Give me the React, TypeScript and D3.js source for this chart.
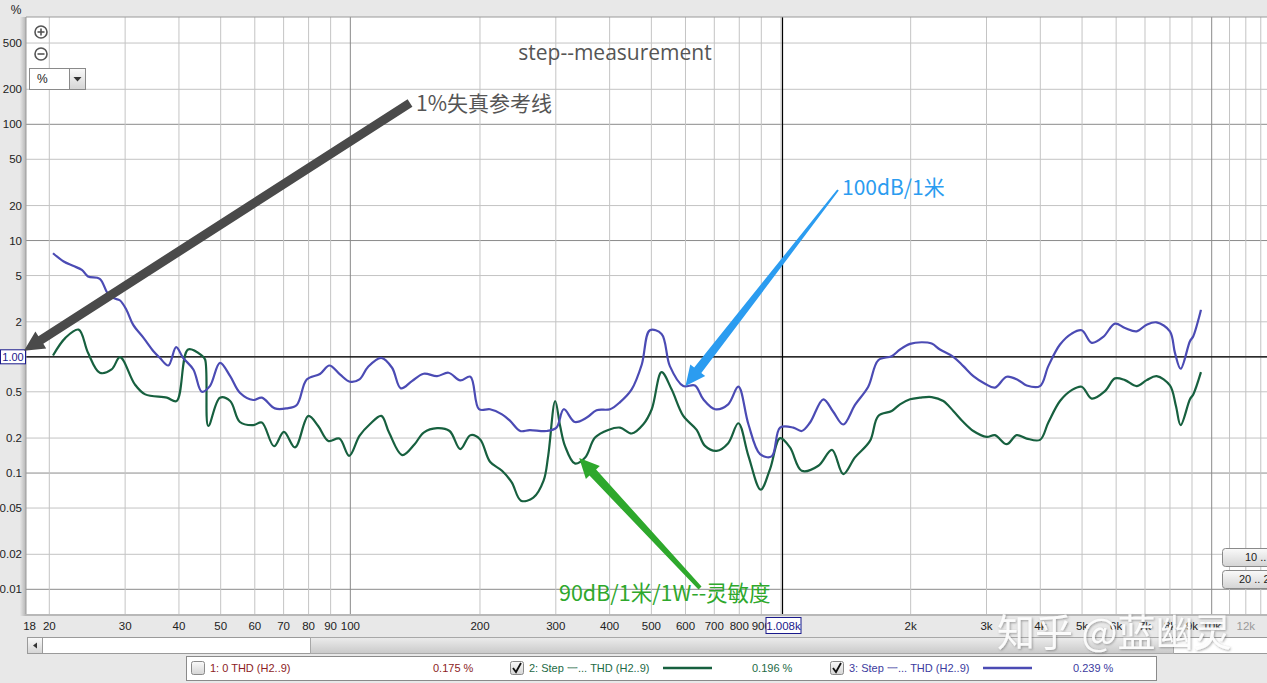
import React from 'react';
import * as d3 from 'd3';

// ---- Data (frequency in Hz, THD in %) ----
const blueFreq = [20.4, 21.6, 22.7, 23.8, 24.6, 26.2, 27.3, 28.2, 29.2, 30.2, 31.3, 33.1, 34.9, 36.1, 37.8, 39.4, 40.9, 43.2, 45.2, 47.2, 49.8, 52.6, 55.4, 59.5, 62.3, 66.8, 71.1, 75.1, 79.2, 85.0, 89.4, 94.6, 99.8, 105, 110, 118, 125, 131, 139, 148, 159, 169, 180, 190, 199, 211, 225, 235, 248, 261, 286, 301, 313, 332, 354, 373, 401, 423, 450, 475, 496, 528, 552, 593, 631, 660, 703, 754, 796, 840, 894, 951, 995, 1068, 1117, 1168, 1254, 1322, 1395, 1485, 1594, 1682, 1807, 1889, 1993, 2121, 2238, 2339, 2512, 2650, 2796, 2976, 3139, 3342, 3556, 3719, 3993, 4175, 4444, 4730, 4991, 5265, 5600, 5962, 6290, 6694, 7062, 7450, 7998, 8216, 8470, 8902, 9062, 9442];
const blueValue = [7.78, 6.6, 6.06, 5.6, 4.91, 4.69, 3.53, 3.2, 3.05, 2.54, 1.89, 1.455, 1.117, 0.98, 0.842, 1.209, 0.98, 0.778, 0.501, 0.56, 0.888, 0.682, 0.491, 0.425, 0.445, 0.36, 0.36, 0.385, 0.639, 0.712, 0.842, 0.705, 0.61, 0.639, 0.821, 0.98, 0.805, 0.535, 0.618, 0.715, 0.682, 0.729, 0.627, 0.674, 0.354, 0.354, 0.32, 0.281, 0.23, 0.234, 0.23, 0.246, 0.354, 0.275, 0.3, 0.347, 0.354, 0.408, 0.525, 0.859, 1.69, 1.574, 0.831, 0.56, 0.567, 0.431, 0.354, 0.39, 0.553, 0.263, 0.1455, 0.139, 0.246, 0.246, 0.23, 0.272, 0.431, 0.3365, 0.2615, 0.386, 0.553, 0.935, 1.012, 1.155, 1.292, 1.334, 1.3, 1.155, 1.0, 0.831, 0.682, 0.587, 0.543, 0.674, 0.63, 0.567, 0.56, 0.831, 1.275, 1.584, 1.69, 1.318, 1.484, 1.929, 1.772, 1.657, 1.89, 1.979, 1.657, 1.082, 0.789, 1.36, 1.501, 2.54];

const greenFreq = [20.4, 21.8, 23.4, 24.6, 26.2, 27.9, 29.2, 31.6, 33.4, 37.5, 39.5, 42.0, 45.2, 46.0, 46.8, 49.8, 52.6, 55.4, 59.5, 62.3, 66.5, 70.1, 74.4, 79.9, 84.2, 88.9, 94.3, 99.4, 105, 111, 118, 123, 132, 141, 148, 159, 170, 180, 190, 200, 211, 225, 237, 249, 266, 281, 288, 299, 307, 315, 332, 351, 370, 397, 423, 450, 479, 501, 528, 557, 593, 637, 666, 709, 754, 796, 840, 897, 943, 995, 1049, 1117, 1221, 1313, 1395, 1485, 1609, 1682, 1807, 1889, 1993, 2102, 2238, 2381, 2512, 2650, 2796, 3003, 3139, 3342, 3525, 3719, 3993, 4175, 4444, 4730, 4991, 5265, 5652, 5962, 6290, 6694, 7062, 7450, 7998, 8260, 8470, 8902, 9062, 9442];
const greenValue = [1.026, 1.455, 1.713, 1.082, 0.729, 0.778, 0.992, 0.579, 0.475, 0.445, 0.4165, 1.155, 1.026, 0.948, 0.254, 0.445, 0.4165, 0.275, 0.258, 0.272, 0.17, 0.226, 0.166, 0.31, 0.254, 0.189, 0.198, 0.1407, 0.209, 0.263, 0.31, 0.223, 0.1427, 0.177, 0.223, 0.243, 0.23, 0.1606, 0.2117, 0.1956, 0.125, 0.1046, 0.0832, 0.0579, 0.0614, 0.0859, 0.1407, 0.4165, 0.254, 0.1714, 0.121, 0.1363, 0.202, 0.235, 0.246, 0.219, 0.263, 0.354, 0.738, 0.525, 0.31, 0.235, 0.1714, 0.1553, 0.1807, 0.268, 0.1407, 0.0719, 0.1082, 0.1995, 0.166, 0.1046, 0.1155, 0.1584, 0.098, 0.1363, 0.189, 0.31, 0.342, 0.39, 0.431, 0.445, 0.4506, 0.4165, 0.342, 0.275, 0.23, 0.2047, 0.2117, 0.177, 0.2117, 0.198, 0.193, 0.272, 0.4165, 0.517, 0.553, 0.437, 0.507, 0.652, 0.63, 0.56, 0.63, 0.682, 0.567, 0.377, 0.258, 0.431, 0.475, 0.738];

const freqTicks = [18, 20, 30, 40, 50, 60, 70, 80, 90, 100, 200, 300, 400, 500, 600, 700, 800, 900, 2000, 3000, 4000, 5000, 6000, 7000, 8000, 9000, 10000, 12000];
const freqTickLabels = ['18', '20', '30', '40', '50', '60', '70', '80', '90', '100', '200', '300', '400', '500', '600', '700', '800', '900', '2k', '3k', '4k', '5k', '6k', '7k', '8k', '9k', '10k', '12k'];
const valueTicks = [500, 200, 100, 50, 20, 10, 5, 2, 0.5, 0.2, 0.1, 0.05, 0.02, 0.01];
const valueTickLabels = ['500', '200', '100', '50', '20', '10', '5', '2', '0.5', '0.2', '0.1', '0.05', '0.02', '0.01'];
const gridFreqs = [20, 30, 40, 50, 60, 70, 80, 90, 100, 200, 300, 400, 500, 600, 700, 800, 900, 1000, 2000, 3000, 4000, 5000, 6000, 7000, 8000, 9000, 10000, 11000, 12000, 13000];
const gridValues = [0.01, 0.02, 0.05, 0.1, 0.2, 0.5, 1, 2, 5, 10, 20, 50, 100, 200, 500];
const cursorFreq = 1008;
const referenceValue = 1;

const legendLabels = ['1: 0 THD (H2..9)', '2: Step 一... THD (H2..9)', '3: Step 一... THD (H2..9)'];
const legendValues = ['0.175 %', '0.196 %', '0.239 %'];
const legendChecked = [false, true, true];

const BLUE = '#4b4bb4';
const GREEN = '#17603f';

const W = 1267, H = 683;
const PL = 26, PT = 17, PR = 1267, PB = 614;

function arrowPoly(x0: number, y0: number, x1: number, y1: number, w0: number, w1: number, hl: number, hw: number) {
  const dx = x1 - x0, dy = y1 - y0, len = Math.hypot(dx, dy);
  const ux = dx / len, uy = dy / len, px = -uy, py = ux;
  const bx = x1 - ux * hl, by = y1 - uy * hl;
  const pts = [
    [x0 + px * w0 / 2, y0 + py * w0 / 2],
    [bx + px * w1 / 2, by + py * w1 / 2],
    [bx + px * hw / 2, by + py * hw / 2],
    [x1, y1],
    [bx - px * hw / 2, by - py * hw / 2],
    [bx - px * w1 / 2, by - py * w1 / 2],
    [x0 - px * w0 / 2, y0 - py * w0 / 2],
  ];
  return pts.map(p => p[0].toFixed(1) + ',' + p[1].toFixed(1)).join(' ');
}

export default function App() {
  const x = d3.scaleLog().domain([20, 10000]).range([49.3, 1211.7]);
  const y = d3.scaleLog().domain([0.01, 100]).range([589.3, 124.3]);

  const line = d3.line<[number, number]>()
    .x(d => x(d[0]))
    .y(d => y(d[1]))
    .curve(d3.curveCatmullRom.alpha(0.5));

  const blueData = blueFreq.map((f, i) => [f, blueValue[i]] as [number, number]);
  const greenData = greenFreq.map((f, i) => [f, greenValue[i]] as [number, number]);

  const font = 'Liberation Sans, Arial, sans-serif';
  const cjk = '"Noto Sans CJK SC", "Noto Sans", sans-serif';

  const y1 = y(referenceValue);
  const xc = x(cursorFreq);

  // annotation anchors via scales
  const grayTip: [number, number] = [PL - 2, y1 - 6];
  const blueTip: [number, number] = [x(600), y(0.56)];
  const greenTip: [number, number] = [x(340), y(0.135)];

  return (
    <div style={{ position: 'absolute', left: 0, top: 0 }}>
      <svg width={W} height={H} style={{ display: 'block' }} fontFamily={font}>
        <defs>
          <clipPath id="plotclip">
            <rect x={PL} y={PT} width={PR - PL} height={PB - PT} />
          </clipPath>
          <linearGradient id="btn" x1="0" x2="0" y1="0" y2="1">
            <stop offset="0" stopColor="#fafafa" />
            <stop offset="1" stopColor="#d4d4d4" />
          </linearGradient>
          <linearGradient id="thumb" x1="0" x2="0" y1="0" y2="1">
            <stop offset="0" stopColor="#ececec" />
            <stop offset="1" stopColor="#c9c9c9" />
          </linearGradient>
          <linearGradient id="shadowL" x1="0" x2="1" y1="0" y2="0">
            <stop offset="0" stopColor="#e6e6e6" />
            <stop offset="1" stopColor="#b5b5b5" />
          </linearGradient>
          <filter id="wmshadow" x="-5%" y="-20%" width="110%" height="140%">
            <feDropShadow dx="1" dy="1" stdDeviation="1" floodColor="#555" floodOpacity="0.55" />
          </filter>
        </defs>
        {/* background */}
        <rect x={0} y={0} width={W} height={H} fill="#e8e8e8" />
        <rect x={PL - 6} y={PT} width={6} height={PB - PT + 2} fill="url(#shadowL)" />
        <rect x={PL} y={PT} width={PR - PL} height={PB - PT} fill="#ffffff" />
        <rect x={PL} y={PB} width={PR - PL} height={2} fill="#b8b8b8" />

        {/* grid */}
        <g clipPath="url(#plotclip)">
          {gridValues.map(v => (
            <line key={'gy' + v} x1={PL} x2={PR} y1={y(v)} y2={y(v)}
              stroke={Math.abs(Math.log10(v) % 1) < 1e-9 ? '#8a8a8a' : '#c4c4c4'} strokeWidth={1} />
          ))}
          {gridFreqs.map(f => (
            <line key={'gx' + f} x1={x(f)} x2={x(f)} y1={PT} y2={PB}
              stroke={f === 100 || f === 10000 ? '#8a8a8a' : '#c4c4c4'} strokeWidth={1} />
          ))}
          {/* reference line and cursor */}
          <line x1={PL} x2={PR} y1={y1} y2={y1} stroke="#000" strokeWidth={1.2} />
          <line x1={xc} x2={xc} y1={PT} y2={PB} stroke="#000" strokeWidth={1.2} />
          {/* curves */}
          <path d={line(greenData) || ''} fill="none" stroke={GREEN} strokeWidth={2.2} strokeLinejoin="round" />
          <path d={line(blueData) || ''} fill="none" stroke={BLUE} strokeWidth={2.2} strokeLinejoin="round" />
        </g>
        <line x1={PL} x2={PL} y1={PT} y2={PB} stroke="#9a9a9a" />
        <line x1={PL} x2={PR} y1={PT} y2={PT} stroke="#9a9a9a" />

        {/* top-left */}
        <text x={16} y={14} fontSize={12} textAnchor="middle" fill="#222">%</text>
        <g stroke="#555" strokeWidth={1.6} fill="none">
          <circle cx={41} cy={32} r={6} fill="#fff" />
          <line x1={37.5} x2={44.5} y1={32} y2={32} />
          <line x1={41} x2={41} y1={28.5} y2={35.5} />
          <circle cx={41} cy={54} r={6} fill="#fff" />
          <line x1={37.5} x2={44.5} y1={54} y2={54} />
        </g>
        <rect x={29.5} y={68.5} width={56} height={21} fill="#fff" stroke="#8a8a8a" />
        <rect x={69.5} y={68.5} width={16} height={21} fill="url(#btn)" stroke="#8a8a8a" />
        <path d="M73.5,77 L81.5,77 L77.5,81.5 Z" fill="#333" />
        <text x={37} y={83} fontSize={12} fill="#222">%</text>

        {/* y tick labels */}
        {valueTicks.map((v, i) => (
          <text key={'yl' + v} x={22} y={y(v) + 4} fontSize={11.5} textAnchor="end" fill="#222">{valueTickLabels[i]}</text>
        ))}
        <rect x={0.5} y={y1 - 7} width={25} height={14} fill="#fff" stroke="#1a1a8c" />
        <text x={13} y={y1 + 4} fontSize={11} textAnchor="middle" fill="#1a1a8c">1.00</text>

        {/* x tick labels */}
        {freqTicks.map((f, i) => (
          <text key={'xl' + f} x={x(f)} y={630} fontSize={11.5} textAnchor="middle" fill={f > 10000 ? '#9a9a9a' : '#222'}>{freqTickLabels[i]}</text>
        ))}
        <rect x={xc - 16.5} y={617.5} width={35} height={16} fill="#fff" stroke="#1a1a8c" />
        <text x={xc + 1} y={630} fontSize={11.5} textAnchor="middle" fill="#1a1a8c">1.008k</text>

        {/* scrollbar */}
        <rect x={27.5} y={637.5} width={1240} height={16} fill="#fff" stroke="#9a9a9a" />
        <rect x={27.5} y={637.5} width={15} height={16} fill="url(#btn)" stroke="#9a9a9a" />
        <path d="M33,645.5 L37,642.5 L37,648.5 Z" fill="#333" />
        <rect x={310.5} y={637.5} width={863} height={16} fill="url(#thumb)" stroke="#a8a8a8" />

        {/* legend */}
        <rect x={186.5} y={656.5} width={970} height={24} fill="#fff" stroke="#8a8a8a" />
        {legendLabels.map((lab, i) => {
          const bx = [191, 510, 830][i];
          const col = ['#8c1c24', '#1d6a45', '#3b3b9e'][i];
          const vx = [433, 752, 1073][i];
          return (
            <g key={'lg' + i}>
              <rect x={bx + 0.5} y={661.5} width={13} height={13} rx={2} fill="url(#btn)" stroke="#8a8a8a" />
              {legendChecked[i] && <path d={`M${bx + 3},${668} L${bx + 6},${672} L${bx + 11},${663}`} fill="none" stroke="#111" strokeWidth={1.8} />}
              <text x={bx + 19} y={672} fontSize={11} fill={col}>{lab}</text>
              {i > 0 && <line x1={[0, 663, 983][i]} x2={[0, 712, 1032][i]} y1={668} y2={668} stroke={i === 1 ? GREEN : BLUE} strokeWidth={2.5} />}
              <text x={vx} y={672} fontSize={11} fill={col}>{legendValues[i]}</text>
            </g>
          );
        })}

        {/* right buttons */}
        <rect x={1222.5} y={548.5} width={50} height={18} rx={3} fill="url(#btn)" stroke="#8a8a8a" />
        <text x={1245} y={561} fontSize={11} fill="#222">10 ..</text>
        <rect x={1222.5} y={570.5} width={50} height={18} rx={3} fill="url(#btn)" stroke="#8a8a8a" />
        <text x={1239} y={583} fontSize={11} fill="#222">20 .. 2</text>

        {/* title */}
        <text x={615} y={60} fontSize={21} textAnchor="middle" fill="#555" fontFamily='"Open Sans", sans-serif'>step--measurement</text>

        {/* annotations */}
        <polygon points={arrowPoly(410, 103, grayTip[0], grayTip[1], 9, 9, 20, 20)} fill="#4a4a4a" />
        <text x={416} y={111} fontSize={21} fill="#555" fontFamily={cjk}>1%失真参考线</text>

        <polygon points={arrowPoly(838, 190, blueTip[0], blueTip[1], 2, 9, 20, 19)} fill="#2b9cf0" />
        <text x={842} y={195} fontSize={21} fill="#2b9cf0" fontFamily={cjk}>100dB/1米</text>

        <polygon points={arrowPoly(700, 588, greenTip[0], greenTip[1], 4, 9, 20, 19)} fill="#2ea82c" />
        <text x={559} y={601} fontSize={21.5} fill="#2ea82c" fontFamily={cjk}>90dB/1米/1W--灵敏度</text>

        {/* watermark */}
        <text x={997} y={646} fontSize={38} fill="#ffffff" fillOpacity={0.92} filter="url(#wmshadow)" fontFamily={cjk}>知乎 @蓝幽灵</text>
      </svg>
    </div>
  );
}
